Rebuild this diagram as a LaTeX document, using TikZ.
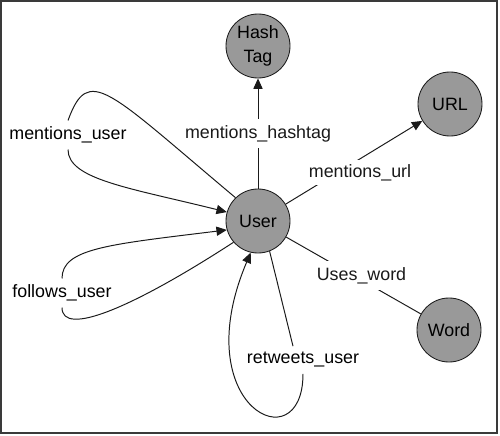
\documentclass[tikz,border=0pt]{standalone}
\usepackage{fontspec}
\setmainfont{Liberation Sans}
\usetikzlibrary{arrows.meta, positioning}
\definecolor{nodegray}{HTML}{999999}
\definecolor{edgeclr}{HTML}{1A1A1A}
\definecolor{frameclr}{HTML}{3A3A3A}
\tikzset{
  entity/.style={
    circle, draw=edgeclr, fill=nodegray, line width=0.6pt,
    minimum size=16mm, inner sep=0pt, align=center,
    font=\fontsize{12.7}{17.5}\selectfont
  },
  arr/.style={-{Triangle[length=2.6mm, width=2.3mm]}, line width=0.7pt, edgeclr},
  link/.style={line width=0.7pt, edgeclr},
  lbl/.style={fill=white, inner sep=1.5mm, font=\fontsize{12.7}{15}\selectfont},
}

\begin{document}
\begin{tikzpicture}

\useasboundingbox (0,0) rectangle (12.5,10.875);
\draw[frameclr, line width=1.2pt] (0.03,0.05) rectangle (12.43,10.85);

% --- Entities ---
\node[entity] (user) at (6.45,5.35) {User};
\node[entity] (hashtag) at (6.45,9.725) {Hash\\Tag};
\node[entity] (url) at (11.25,8.275) {URL};
\node[entity] (word) at (11.225,2.625) {Word};

% --- Loop labels ---
\node[lbl] (mentuser) at (1.7,7.5) {mentions\_user};
\node[lbl] (follows) at (1.55,3.55) {follows\_user};
\node[lbl] (retweets) at (7.575,1.875) {retweets\_user};

% --- Straight edges ---
\draw[arr] (user) -- node[lbl] {mentions\_hashtag} (hashtag);
\draw[arr] (user) -- node[lbl, inner ysep=1mm, xshift=1.5mm, yshift=-2.5mm] {mentions\_url} (url);
\draw[link] (user) -- node[lbl, xshift=2mm] {Uses\_word} (word);

% --- Self loops ---
\draw[link] (user.134) to[out=140, in=70, out distance=4.2cm, in distance=1.5cm] (mentuser.north);
\draw[arr] (mentuser.south) to[out=-90, in=166, out distance=0.75cm, in distance=2.5cm] (user.164);
\draw[arr] (follows.north) to[out=90, in=187, out distance=0.75cm, in distance=3cm] (user.196);
\draw[link] (user.221) to[out=213, in=-90, out distance=3cm, in distance=0.75cm] (follows.south);
\draw[link] (user.-69) -- ([xshift=-0.25cm]retweets.north);
\draw[arr] (retweets.south) to[out=-90, in=247, out distance=2.25cm, in distance=4.2cm] (user.257);

\end{tikzpicture}
\end{document}
